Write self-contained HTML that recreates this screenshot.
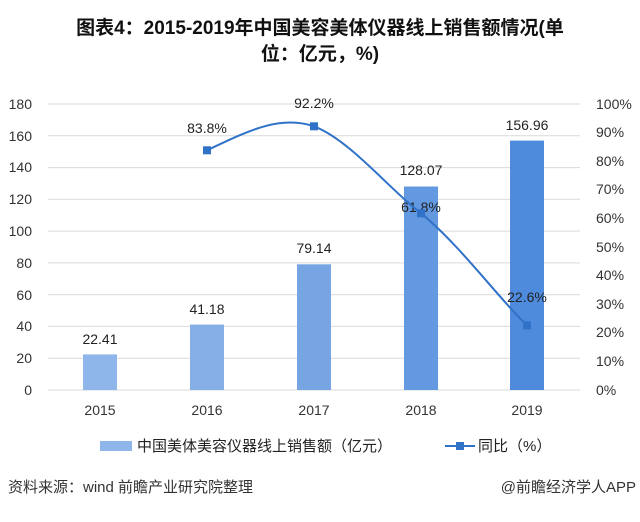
<!DOCTYPE html>
<html><head><meta charset="utf-8"><style>
body{margin:0;width:640px;height:517px;background:#fff;overflow:hidden;font-family:"Liberation Sans","Noto Sans CJK SC",sans-serif;}
</style></head><body>
<svg width="640" height="517" xmlns="http://www.w3.org/2000/svg" font-family="Liberation Sans, Noto Sans CJK SC, sans-serif">
<text x="320" y="34" text-anchor="middle" font-size="19" font-weight="bold" fill="#111">图表4：2015-2019年中国美容美体仪器线上销售额情况(单</text>
<text x="320" y="60" text-anchor="middle" font-size="19" font-weight="bold" fill="#111">位：亿元，%)</text>
<g stroke="#d9d9d9" stroke-width="1">
<line x1="48" x2="580" y1="104" y2="104"/><line x1="48" x2="580" y1="135.8" y2="135.8"/>
<line x1="48" x2="580" y1="167.6" y2="167.6"/><line x1="48" x2="580" y1="199.3" y2="199.3"/>
<line x1="48" x2="580" y1="231.1" y2="231.1"/><line x1="48" x2="580" y1="262.9" y2="262.9"/>
<line x1="48" x2="580" y1="294.7" y2="294.7"/><line x1="48" x2="580" y1="326.4" y2="326.4"/>
<line x1="48" x2="580" y1="358.2" y2="358.2"/><line x1="48" x2="580" y1="390" y2="390"/>
</g>
<g font-size="14" fill="#333" text-anchor="end">
<text x="32" y="109">180</text><text x="32" y="141">160</text><text x="32" y="172">140</text>
<text x="32" y="204">120</text><text x="32" y="236">100</text><text x="32" y="268">80</text>
<text x="32" y="300">60</text><text x="32" y="331">40</text><text x="32" y="363">20</text><text x="32" y="395">0</text>
</g>
<g font-size="14" fill="#333" text-anchor="start">
<text x="596" y="109">100%</text><text x="596" y="137">90%</text><text x="596" y="166">80%</text>
<text x="596" y="194">70%</text><text x="596" y="223">60%</text><text x="596" y="252">50%</text>
<text x="596" y="280">40%</text><text x="596" y="309">30%</text><text x="596" y="337">20%</text>
<text x="596" y="366">10%</text><text x="596" y="395">0%</text>
</g>
<rect x="83" y="354.4" width="34" height="35.6" fill="#8fb6ea"/>
<rect x="190" y="324.6" width="34" height="65.4" fill="#86afe7"/>
<rect x="297" y="264.3" width="34" height="125.7" fill="#77a5e4"/>
<rect x="404" y="186.5" width="34" height="203.5" fill="#6299e0"/>
<rect x="510" y="140.6" width="34" height="249.4" fill="#4f8bdc"/>
<g font-size="14" fill="#222" text-anchor="middle">
<text x="100" y="344">22.41</text><text x="207" y="314">41.18</text><text x="314" y="253">79.14</text>
<text x="421" y="175">128.07</text><text x="527" y="130">156.96</text>
<text x="207" y="133">83.8%</text><text x="314" y="108">92.2%</text>
<text x="421" y="212">61.8%</text><text x="527" y="302">22.6%</text>
</g>
<path d="M207,150.3 C250,130 280,115 314,126.3 C350,140 390,190 421,213.3 C460,245 500,300 527,325.4" fill="none" stroke="#2f72c8" stroke-width="2"/>
<g fill="#2f72c8"><rect x="203" y="146.3" width="8" height="8"/><rect x="310" y="122.3" width="8" height="8"/><rect x="417" y="209.3" width="8" height="8"/><rect x="523" y="321.4" width="8" height="8"/></g>
<g font-size="14" fill="#333" text-anchor="middle">
<text x="100" y="415">2015</text><text x="207" y="415">2016</text><text x="314" y="415">2017</text><text x="421" y="415">2018</text><text x="527" y="415">2019</text>
</g>
<rect x="100" y="441" width="32" height="10" fill="#8fb6ea"/>
<text x="137" y="451" font-size="15" fill="#222">中国美体美容仪器线上销售额（亿元）</text>
<line x1="445" x2="475" y1="446" y2="446" stroke="#2f72c8" stroke-width="2"/>
<rect x="456" y="442" width="8" height="8" fill="#2f72c8"/>
<text x="478" y="451" font-size="15" fill="#222">同比（%）</text>
<text x="8" y="492" font-size="15" fill="#333">资料来源：wind 前瞻产业研究院整理</text>
<text x="636" y="492" font-size="15" fill="#333" text-anchor="end">@前瞻经济学人APP</text>
</svg>
</body></html>
